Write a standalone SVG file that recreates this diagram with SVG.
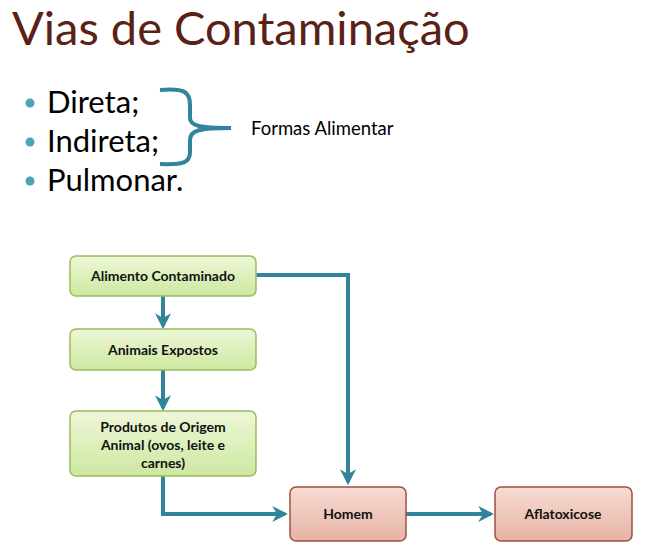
<svg xmlns="http://www.w3.org/2000/svg" width="650" height="559" viewBox="0 0 650 559">
<defs>
<linearGradient id="g" x1="0" y1="0" x2="0" y2="1"><stop offset="0" stop-color="#eef7d8"/><stop offset="1" stop-color="#cde8a0"/></linearGradient>
<linearGradient id="r" x1="0" y1="0" x2="0" y2="1"><stop offset="0" stop-color="#f6dcd4"/><stop offset="1" stop-color="#e8b2a4"/></linearGradient>
<marker id="a" viewBox="0 0 10 10" refX="8" refY="5" markerWidth="4" markerHeight="4" orient="auto"><path d="M0,0 L10,5 L0,10 L3,5 z" fill="#31849b"/></marker>
<style>
.gn{fill:url(#g);stroke:#9bbb59;stroke-width:1.5}
.rn{fill:url(#r);stroke:#a0503c;stroke-width:1.5}
.t{font-family:"Lato","Open Sans",sans-serif;font-weight:bold;font-size:14px;fill:#111;text-anchor:middle}
.b{font-family:"Lato","Open Sans",sans-serif;font-size:31px;fill:#000}
.c{fill:none;stroke:#31849b;stroke-width:4;marker-end:url(#a)}
</style>
</defs>
<rect width="650" height="559" fill="#fff"/>
<text x="12" y="45" font-family="Lato,'Open Sans',sans-serif" font-size="47" fill="#5a2117">Vias de Contaminação</text>
<g id="bullets">
<circle cx="30" cy="103" r="4.5" fill="#4ba3b8"/><text class="b" x="47" y="113">Direta;</text>
<circle cx="30" cy="142" r="4.5" fill="#4ba3b8"/><text class="b" x="47" y="152">Indireta;</text>
<circle cx="30" cy="181" r="4.5" fill="#4ba3b8"/><text class="b" x="47" y="191">Pulmonar.</text>
</g>
<path d="M160,90 C185,88 190,92 190,105 L190,118 C190,126 200,128 231,128 C200,128 190,130 190,140 L190,152 C190,162 185,165 160,164" fill="none" stroke="#31849b" stroke-width="4"/>
<text x="251" y="135" font-family="Lato,'Open Sans',sans-serif" font-size="18.5" fill="#000">Formas Alimentar</text>
<g id="connectors">
<path class="c" d="M256,275 H348 V482"/>
<path class="c" d="M163,296 V326"/>
<path class="c" d="M163,370 V408"/>
<path class="c" d="M163,476 V514 H285"/>
<path class="c" d="M406,514 H491"/>
</g>
<g id="n1"><rect class="gn" x="70" y="256" width="186" height="40" rx="6"/><text class="t" x="163" y="281">Alimento Contaminado</text></g>
<g id="n2"><rect class="gn" x="70" y="329" width="186" height="41" rx="6"/><text class="t" x="163" y="355">Animais Expostos</text></g>
<g id="n3"><rect class="gn" x="70" y="411" width="186" height="65" rx="6"/><text class="t" x="163" y="432">Produtos de Origem</text><text class="t" x="163" y="450">Animal (ovos, leite e</text><text class="t" x="163" y="468">carnes)</text></g>
<g id="n4"><rect class="rn" x="290" y="487" width="116" height="54" rx="6"/><text class="t" x="348" y="519">Homem</text></g>
<g id="n5"><rect class="rn" x="495" y="487" width="137" height="54" rx="6"/><text class="t" x="563" y="519">Aflatoxicose</text></g>
</svg>
